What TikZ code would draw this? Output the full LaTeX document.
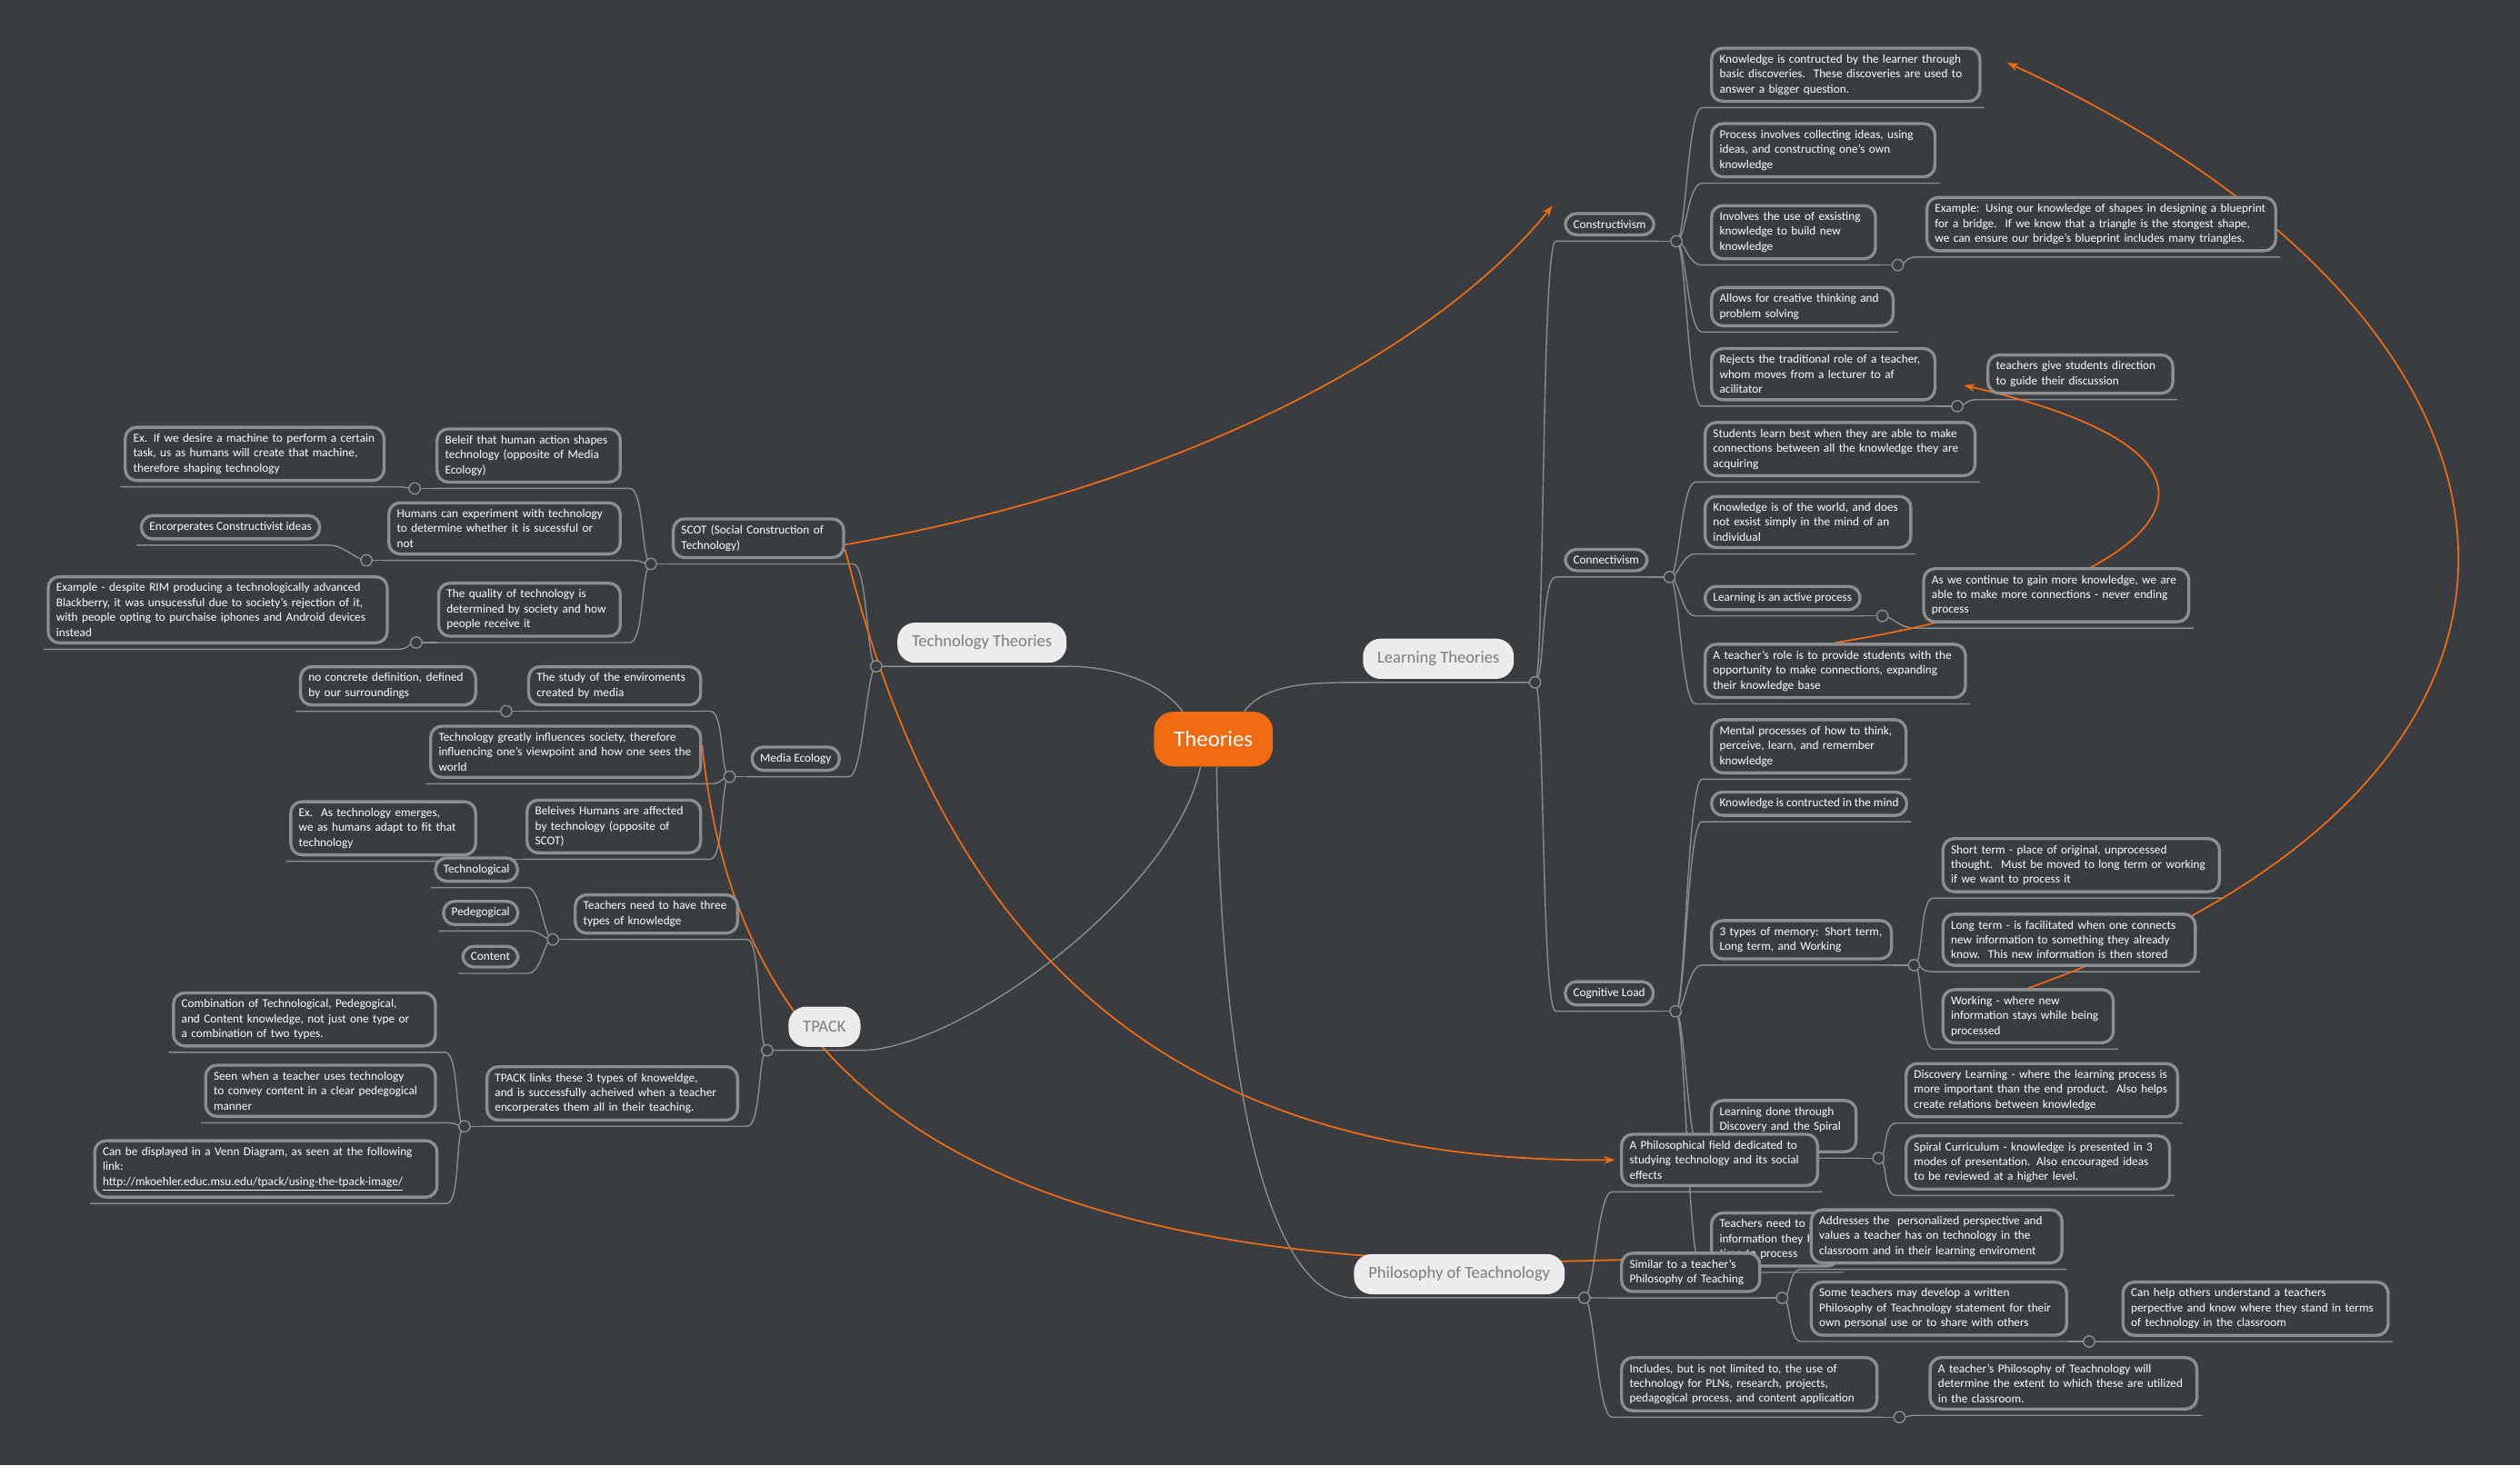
\documentclass[tikz,border=0pt]{standalone}
\usepackage{fontspec}
\setmainfont{Carlito}
\usetikzlibrary{calc,backgrounds,arrows.meta}
\lefthyphenmin=64
\definecolor{bg}{RGB}{57,60,65}
\definecolor{boxc}{RGB}{140,142,143}
\definecolor{linec}{RGB}{138,140,142}
\definecolor{orng}{RGB}{240,106,15}
\definecolor{topicf}{RGB}{236,236,236}
\definecolor{topict}{RGB}{125,125,125}
\newcommand\leaffont{\fontsize{7.5}{9.3}\selectfont\lefthyphenmin=64 }
\tikzset{
 leaf/.style={draw=boxc, line width=1.9pt, fill=bg, rounded corners=7pt, text=white, font=\leaffont, align=left, anchor=north west, inner xsep=5pt, inner ysep=4pt},
 topic/.style={fill=topicf, rounded corners=11pt, text=topict, font=\fontsize{10.5}{12}\selectfont, minimum height=25pt, inner xsep=9pt},
 central/.style={fill=orng, rounded corners=12pt, text=white, font=\fontsize{14}{16}\selectfont, minimum height=34pt, minimum width=74pt},
 conn/.style={draw=linec, line width=0.8pt},
 jc/.style={circle, draw=linec, fill=bg, line width=0.8pt, inner sep=0pt, minimum size=7pt},
 rel/.style={draw=orng, line width=1pt},
}
\newcommand\brR[2]{\draw[conn] (#1) .. controls ([xshift=6pt]#1) and ([xshift=-14pt,yshift=-3pt]#2.south west) .. ([xshift=-5pt,yshift=-3pt]#2.south west) -- ([xshift=2pt,yshift=-3pt]#2.south east);}
\newcommand\brL[2]{\draw[conn] (#1) .. controls ([xshift=-6pt]#1) and ([xshift=14pt,yshift=-3pt]#2.south east) .. ([xshift=5pt,yshift=-3pt]#2.south east) -- ([xshift=-2pt,yshift=-3pt]#2.south west);}
\newcommand\jR[2]{\coordinate (#1) at ([xshift=13pt,yshift=-3pt]#2.south east); \draw[conn] ([yshift=-3pt]#2.south east) -- (#1);}
\newcommand\jL[2]{\coordinate (#1) at ([xshift=-13pt,yshift=-3pt]#2.south west); \draw[conn] ([yshift=-3pt]#2.south west) -- (#1);}
\begin{document}
\begin{tikzpicture}[x=1pt,y=-1pt]
\useasboundingbox (0,0) rectangle (1568,912);
% central and topics
\node[central] (th) at (755,460) {Theories};
\node[topic] (tt) at (611,400) {Technology Theories};
\node[topic] (lt) at (895,410) {Learning Theories};
\node[topic] (tpk) at (513,639) {TPACK};
\node[topic] (ph) at (908,793) {Philosophy of Teachnology};
% Constructivism
\node[leaf] (cons) at (973,132) {Constructivism};
\node[leaf,text width=157pt] (k1) at (1064,29) {Knowledge is contructed by the learner through basic discoveries.\ \ These discoveries are used to answer a bigger question.};
\node[leaf,text width=129pt] (k2) at (1064,76) {Process involves collecting ideas, using ideas, and constructing one's own knowledge};
\node[leaf,text width=92pt] (k3) at (1064,127) {Involves the use of exsisting knowledge to build new knowledge};
\node[leaf,text width=207pt] (k3a) at (1198,122) {Example: Using our knowledge of shapes in designing a blueprint for a bridge.\ \ If we know that a triangle is the stongest shape, we can ensure our bridge's blueprint includes many triangles.};
\node[leaf,text width=103pt] (k4) at (1064,178) {Allows for creative thinking and problem solving};
\node[leaf,text width=129pt] (k5) at (1064,216) {Rejects the traditional role of a teacher, whom moves from a lecturer to af acilitator};
\node[leaf,text width=105pt] (k5a) at (1236,220) {teachers give students direction to guide their discussion};
% Connectivism
\node[leaf] (cnv) at (973,341) {Connectivism};
\node[leaf,text width=158pt] (n1) at (1060,262) {Students learn best when they are able to make connections between all the knowledge they are acquiring};
\node[leaf,text width=118pt] (n2) at (1060,308) {Knowledge is of the world, and does not exsist simply in the mind of an individual};
\node[leaf] (n3) at (1060,364) {Learning is an active process};
\node[leaf,text width=155pt] (n3a) at (1196,353) {As we continue to gain more knowledge, we are able to make more connections - never ending process};
\node[leaf,text width=152pt] (n4) at (1060,400) {A teacher's role is to provide students with the opportunity to make connections, expanding their knowledge base};
% Cognitive Load
\node[leaf] (cog) at (973,610) {Cognitive Load};
\node[leaf,text width=111pt] (g1) at (1064,447) {Mental processes of how to think, perceive, learn, and remember knowledge};
\node[leaf] (g2) at (1064,492) {Knowledge is contructed in the mind};
\node[leaf,text width=102pt] (g3) at (1064,572) {3 types of memory: Short term, Long term, and Working};
\node[leaf,text width=162pt] (g3a) at (1208,521) {Short term - place of original, unprocessed thought.\ \ Must be moved to long term or working if we want to process it};
\node[leaf,text width=147pt] (g3b) at (1208,568) {Long term - is facilitated when one connects new information to something they already know.\ \ This new information is then stored};
\node[leaf,text width=96pt] (g3c) at (1208,615) {Working - where new information stays while being processed};
\node[leaf,text width=80pt] (g4) at (1064,684) {Learning done through Discovery and the Spiral Curriculum};
\node[leaf,text width=159pt] (g4a) at (1185,661) {Discovery Learning - where the learning process is more important than the end product.\ \ Also helps create relations between knowledge};
\node[leaf,text width=154pt] (g4b) at (1185,706) {Spiral Curriculum - knowledge is presented in 3 modes of presentation. Also encouraged ideas to be reviewed at a higher level.};
\node[leaf,text width=69pt] (g5) at (1064,754) {Teachers need to give information they have time to process};
% Philosophy
\node[leaf,text width=112pt] (phf) at (1008,705) {A Philosophical field dedicated to studying technology and its social effects};
\node[leaf,text width=76pt] (sim) at (1008,779) {Similar to a teacher's Philosophy of Teaching};
\node[leaf,text width=146pt] (sima) at (1126,752) {Addresses the\ \ personalized perspective and values a teacher has on technology in the classroom and in their learning enviroment};
\node[leaf,text width=149pt] (simb) at (1126,797) {Some teachers may develop a written Philosophy of Teachnology statement for their own personal use or to share with others};
\node[leaf,text width=155pt] (simc) at (1320,797) {Can help others understand a teachers perpective and know where they stand in terms of technology in the classroom};
\node[leaf,text width=149pt] (inc) at (1008,844) {Includes, but is not limited to, the use of technology for PLNs, research, projects, pedagogical process, and content application};
\node[leaf,text width=156pt] (inca) at (1200,844) {A teacher's Philosophy of Teachnology will determine the extent to which these are utilized in the classroom.};
% SCOT
\node[leaf,text width=96pt] (scot) at (418,322) {SCOT (Social Construction of Technology)};
\node[leaf,text width=104pt] (s1) at (271,266) {Beleif that human action shapes technology (opposite of Media Ecology)};
\node[leaf,text width=151pt] (s1a) at (77,265) {Ex. If we desire a machine to perform a certain task, us as humans will create that machine, therefore shaping technology};
\node[leaf,text width=134pt] (s2) at (241,312) {Humans can experiment with technology to determine whether it is sucessful or not};
\node[leaf] (s2a) at (87,320) {Encorperates Constructivist ideas};
\node[leaf,text width=103pt] (s3) at (272,362) {The quality of technology is determined by society and how people receive it};
\node[leaf,text width=201pt] (s3a) at (29,358) {Example - despite RIM producing a technologically advanced Blackberry, it was unsucessful due to society's rejection of it, with people opting to purchaise iphones and Android devices instead};
% Media Ecology
\node[leaf] (med) at (467,464) {Media Ecology};
\node[leaf,text width=97pt] (m1) at (328,414) {The study of the enviroments created by media};
\node[leaf,text width=99pt] (m1a) at (186,414) {no concrete definition, defined by our surroundings};
\node[leaf,text width=158pt] (m2) at (267,451) {Technology greatly influences society, therefore influencing one's viewpoint and how one sees the world};
\node[leaf,text width=98pt] (m3) at (327,497) {Beleives Humans are affected by technology (opposite of SCOT)};
\node[leaf,text width=105pt] (m3a) at (180,498) {Ex.\ \ As technology emerges, we as humans adapt to fit that technology};
% TPACK
\node[leaf,text width=91pt] (tp1) at (357,556) {Teachers need to have three types of knowledge};
\node[leaf] (tpa) at (270,533) {Technological};
\node[leaf] (tpb) at (275,560) {Pedegogical};
\node[leaf] (tpc) at (287,588) {Content};
\node[leaf,text width=146pt] (tp2) at (302,663) {TPACK links these 3 types of knoweldge, and is successfully acheived when a teacher encorperates them all in their teaching.};
\node[leaf,text width=153pt] (tp2a) at (107,617) {Combination of Technological, Pedegogical, and Content knowledge, not just one type or a combination of two types.};
\node[leaf,text width=133pt] (tp2b) at (127,662) {Seen when a teacher uses technology to convey content in a clear pedegogical manner};
\node[leaf,text width=203pt] (tp2c) at (58,709) {Can be displayed in a Venn Diagram, as seen at the following link:\\ \underline{http://mkoehler.educ.msu.edu/tpack/using-the-tpack-image/}};
\begin{pgfonlayer}{background}
\fill[bg] (0,0) rectangle (1568,912);
% main topic connections
\coordinate (jLT) at ([xshift=13pt,yshift=-2pt]lt.south east);
\coordinate (jTT) at ([xshift=-13pt,yshift=-2pt]tt.south west);
\coordinate (jTP) at ([xshift=-13pt,yshift=-2pt]tpk.south west);
\coordinate (jPH) at ([xshift=12pt,yshift=-2pt]ph.south east);
\draw[conn] ([xshift=-18pt]th.north east) .. controls ([xshift=-5pt,yshift=18pt]th.north east) and ([xshift=-30pt,yshift=-2pt]lt.south west) .. ([yshift=-2pt]lt.south west) -- (jLT);
\draw[conn] ([xshift=18pt]th.north west) .. controls ([xshift=5pt,yshift=18pt]th.north west) and ([xshift=30pt,yshift=-2pt]tt.south east) .. ([yshift=-2pt]tt.south east) -- (jTT);
\draw[conn] ([xshift=-8pt]th.south) .. controls ([xshift=-25pt,yshift=-80pt]th.south) and ([xshift=60pt,yshift=-2pt]tpk.south east) .. ([yshift=-2pt]tpk.south east) -- (jTP);
\draw[conn] ([xshift=2pt]th.south) .. controls ([xshift=5pt,yshift=-230pt]th.south) and ([xshift=-45pt,yshift=-2pt]ph.south west) .. ([yshift=-2pt]ph.south west) -- (jPH);
% learning theories
\brR{jLT}{cons}\brR{jLT}{cnv}\brR{jLT}{cog}
\jR{jC}{cons}\jR{jN}{cnv}\jR{jG}{cog}
\brR{jC}{k1}\brR{jC}{k2}\brR{jC}{k3}\brR{jC}{k4}\brR{jC}{k5}
\jR{jK3}{k3}\brR{jK3}{k3a}\jR{jK5}{k5}\brR{jK5}{k5a}
\brR{jN}{n1}\brR{jN}{n2}\brR{jN}{n3}\brR{jN}{n4}
\jR{jN3}{n3}\brR{jN3}{n3a}
\brR{jG}{g1}\brR{jG}{g2}\brR{jG}{g3}\brR{jG}{g4}\brR{jG}{g5}
\jR{jG3}{g3}\brR{jG3}{g3a}\brR{jG3}{g3b}\brR{jG3}{g3c}
\jR{jG4}{g4}\brR{jG4}{g4a}\brR{jG4}{g4b}
% philosophy
\brR{jPH}{phf}\brR{jPH}{sim}\brR{jPH}{inc}
\jR{jS}{sim}\brR{jS}{sima}\brR{jS}{simb}
\jR{jSB}{simb}\brR{jSB}{simc}
\jR{jI}{inc}\brR{jI}{inca}
% technology theories
\brL{jTT}{scot}\brL{jTT}{med}
\jL{jSC}{scot}\jL{jME}{med}
\brL{jSC}{s1}\brL{jSC}{s2}\brL{jSC}{s3}
\jL{jS1}{s1}\brL{jS1}{s1a}\jL{jS2}{s2}\brL{jS2}{s2a}\jL{jS3}{s3}\brL{jS3}{s3a}
\brL{jME}{m1}\brL{jME}{m2}\brL{jME}{m3}
\jL{jM1}{m1}\brL{jM1}{m1a}\jL{jM3}{m3}\brL{jM3}{m3a}
% TPACK
\brL{jTP}{tp1}\brL{jTP}{tp2}
\jL{jT1}{tp1}\jL{jT2}{tp2}
\brL{jT1}{tpa}\brL{jT1}{tpb}\brL{jT1}{tpc}
\brL{jT2}{tp2a}\brL{jT2}{tp2b}\brL{jT2}{tp2c}
% relationships
\draw[rel,-{Stealth[length=7pt,width=5pt]}] ([yshift=-4pt]scot.east) .. controls (750,300) and (900,210) .. ([xshift=-7pt,yshift=4pt]cons.north west);
\draw[rel,-{Stealth[length=7pt,width=5pt]}] ([yshift=-7pt]scot.east) .. controls (580,560) and (700,725) .. ([xshift=-3pt]phf.west);
\draw[rel] ([yshift=4pt]m2.east) .. controls (455,640) and (560,800) .. ([xshift=2pt,yshift=-5pt]sim.north west);
\draw[rel,-{Stealth[length=7pt,width=5pt]}] (g3c.north) .. controls (1640,480) and (1600,200) .. ([xshift=16pt,yshift=-10pt]k1.north east);
\draw[rel,-{Stealth[length=7pt,width=5pt]}] (n4.north) .. controls (1330,370) and (1440,290) .. ([xshift=17pt,yshift=10pt]k5.south east);
\end{pgfonlayer}
\foreach \j in {jLT,jTT,jTP,jPH,jC,jN,jG,jK3,jK5,jN3,jG3,jG4,jS,jSB,jI,jSC,jME,jS1,jS2,jS3,jM1,jT1,jT2}
  \node[jc] at (\j) {};
\end{tikzpicture}
\end{document}
